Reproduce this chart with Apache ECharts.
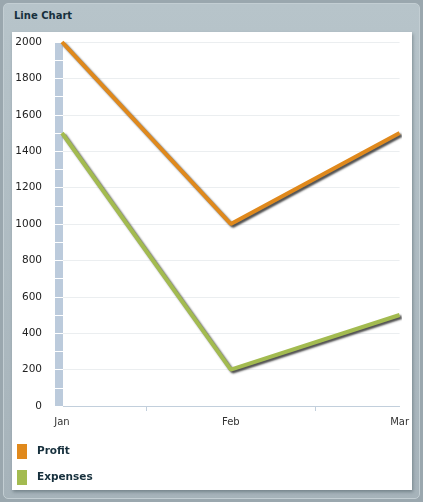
<!DOCTYPE html>
<html>
<head>
<meta charset="utf-8">
<script src="https://cdn.jsdelivr.net/npm/echarts@6/dist/echarts.min.js"></script>
<style>
  html, body { margin: 0; padding: 0; }
  body { width: 423px; height: 502px; background: #9aa7ae; position: relative; overflow: hidden; }
  .frame {
    position: absolute; left: 3px; top: 3px; width: 417px; height: 496px;
    border-radius: 5px;
    background: linear-gradient(#b7c4ca, #a6b3ba);
    border: 1px solid #c3ced3;
    box-sizing: border-box;
  }
  .title {
    position: absolute; left: 14px; top: 10px;
    font: bold 10px "DejaVu Sans", Verdana, sans-serif; color: #17303d;
  }
  .panel {
    position: absolute; left: 12px; top: 32px; width: 400px; height: 458px;
    background: #fff; overflow: hidden;
    box-shadow: 1px 2px 3px rgba(60, 75, 85, 0.45);
  }
  #chart { width: 400px; height: 458px; }
</style>
</head>
<body>
<div class="frame"></div>
<div class="title">Line Chart</div>
<div class="panel"><div id="chart"></div></div>
<script>
const months = ['Jan', 'Feb', 'Mar']
const profit = [2000, 1000, 1500]
const expenses = [1500, 200, 500]
const yMin = 0
const yMax = 2000
const yStep = 200

const font = '"DejaVu Sans", Verdana, sans-serif'
const chart = echarts.init(document.getElementById('chart'))

function seriesLine(name, data, color) {
  return {
    name,
    type: 'line',
    data,
    xAxisIndex: 0,
    yAxisIndex: 0,
    symbol: 'none',
    lineStyle: {
      width: 4,
      color,
      shadowColor: 'rgba(20, 20, 20, 0.75)',
      shadowBlur: 2,
      shadowOffsetX: 2,
      shadowOffsetY: 2
    },
    itemStyle: { color },
    z: 5
  }
}

chart.setOption({
  animation: false,
  grid: { left: 50, right: 12, top: 10, bottom: 84 },
  legend: {
    orient: 'vertical',
    left: 5,
    top: 412,
    icon: 'rect',
    itemWidth: 10,
    itemHeight: 15,
    itemGap: 11,
    padding: 0,
    itemStyle: { shadowBlur: 0, shadowOffsetX: 0, shadowOffsetY: 0 },
    lineStyle: { width: 0 },
    textStyle: { fontFamily: font, fontSize: 10.5, fontWeight: 'bold', color: '#17303d', padding: [0, 0, 0, 5] }
  },
  xAxis: [
    {
      type: 'category',
      data: months,
      boundaryGap: false,
      axisLine: { lineStyle: { color: '#c2cfdc', width: 1 } },
      axisTick: { show: false },
      axisLabel: { fontFamily: font, fontSize: 10, color: '#333', margin: 11 },
      splitLine: { show: false }
    },
    {
      // only used for the tick marks between the months
      type: 'value',
      position: 'bottom',
      min: 0,
      max: months.length - 1,
      axisLine: { show: false },
      axisLabel: { show: false },
      splitLine: { show: false },
      axisTick: {
        show: true,
        length: 5,
        customValues: [0.5, 1.5],
        lineStyle: { color: '#c2cfdc' }
      }
    }
  ],
  yAxis: [
    {
      type: 'value',
      position: 'left',
      min: yMin,
      max: yMax,
      interval: yStep,
      offset: 9,
      axisLine: { show: false },
      axisTick: { show: true, length: 6, lineStyle: { color: '#b9c6d2' } },
      axisLabel: { fontFamily: font, fontSize: 10.5, color: '#222', margin: 11, formatter: v => String(v) },
      splitLine: { lineStyle: { color: '#ebeef0', width: 1 } }
    },
    {
      // the pale blue wall on the left of the plot
      type: 'value',
      position: 'left',
      min: yMin,
      max: yMax,
      interval: yStep / 2,
      offset: 3,
      axisLine: { show: true, lineStyle: { color: '#bccbdc', width: 8, cap: 'butt' } },
      axisTick: { show: true, length: 4, lineStyle: { color: '#ffffff', width: 1 } },
      axisLabel: { show: false },
      splitLine: { show: false }
    },
    {
      type: 'value',
      position: 'left',
      min: yMin,
      max: yMax,
      interval: yStep / 2,
      offset: 3,
      axisLine: { show: false },
      axisTick: { show: true, inside: true, length: 4, lineStyle: { color: '#ffffff', width: 1 } },
      axisLabel: { show: false },
      splitLine: { show: false }
    }
  ],
  series: [
    seriesLine('Profit', profit, '#e0891c'),
    seriesLine('Expenses', expenses, '#a3bb50')
  ]
})
</script>
</body>
</html>
